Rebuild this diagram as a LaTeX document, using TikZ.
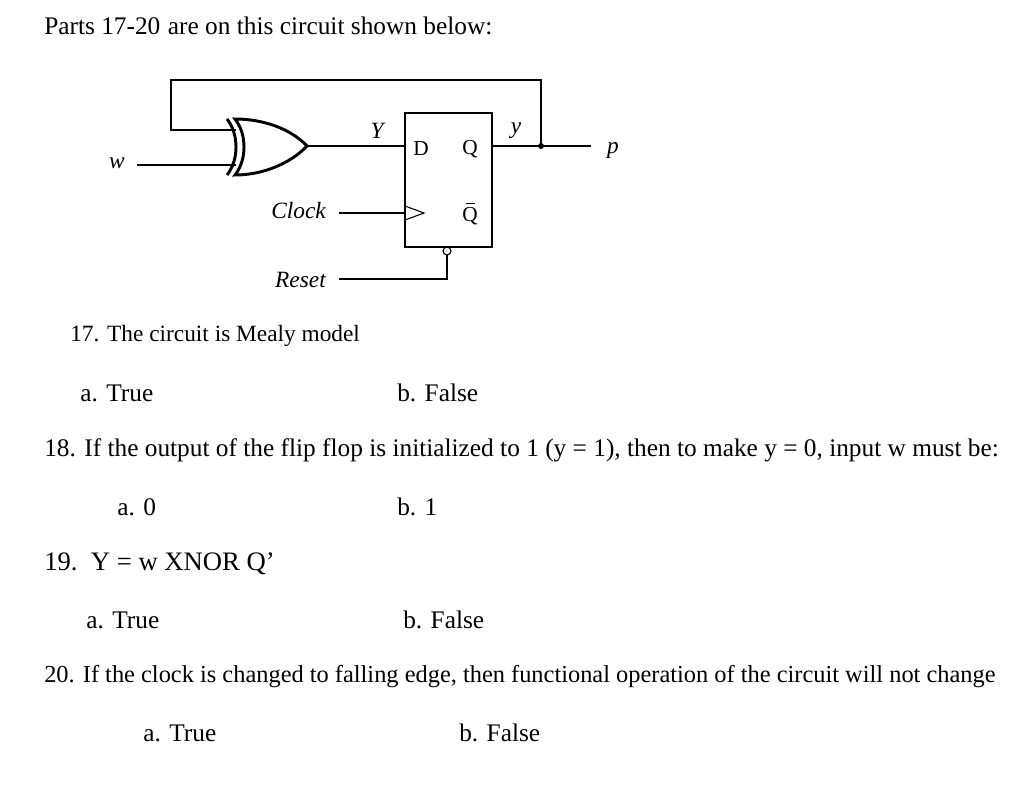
\documentclass[tikz,border=0pt]{standalone}
\usepackage{fontspec}
\setmainfont{Liberation Serif}
\begin{document}
\begin{tikzpicture}[x=0.75pt,y=-0.75pt,
  txt/.style={anchor=west,inner sep=0pt,font=\fontsize{19pt}{22pt}\selectfont},
  lab/.style={inner sep=0pt,font=\fontsize{17.5pt}{20pt}\selectfont\itshape},
  ff/.style={inner sep=0pt,font=\fontsize{16pt}{18pt}\selectfont},
  wire/.style={line width=0.8pt},
  thick box/.style={line width=2.2pt}]
\useasboundingbox (0,0) rectangle (1024,785);
% texts
\node[txt] (t0) at (44,26) {Parts 17-20\hspace{0.3em}are on this circuit shown below:};
\node[txt,font=\fontsize{17.5pt}{20pt}\selectfont] (t17) at (70,336) {17. The circuit is Mealy model};
\node[txt] (a17) at (80,393) {a. True};
\node[txt] (b17) at (397,393) {b. False};
\node[txt] (t18) at (44,450) {18. If the output of the flip flop is initialized to 1 (y = 1), then to make y = 0, input w must be:};
\node[txt] (a18) at (117,507) {a. 0};
\node[txt] (b18) at (397,507) {b. 1};
\node[txt,font=\fontsize{20pt}{22pt}\selectfont] (t19) at (44,564) {19.\ \ Y = w XNOR Q’};
\node[txt] (a19) at (86,620) {a. True};
\node[txt] (b19) at (403,620) {b. False};
\node[txt,font=\fontsize{18.3pt}{22pt}\selectfont] (t20) at (44,677) {20. If the clock is changed to falling edge, then functional operation of the circuit will not change};
\node[txt] (a20) at (143,733) {a. True};
\node[txt] (b20) at (459,733) {b. False};
% gate
\draw[thick box] (235,119) .. controls (262,119) and (290,128) .. (307,146)
  .. controls (290,164) and (262,175) .. (235,175)
  .. controls (247,160) and (247,134) .. (235,119) -- cycle;
\draw[thick box] (227,119) .. controls (239,134) and (239,160) .. (227,175);
\coordinate (gout) at (307,146);
\coordinate (gin1) at (236,130);
\coordinate (gin2) at (236,165);
% flip-flop
\draw[thick box] (405,113) rectangle (492,247);
\node[ff] (D) at (421,149) {D};
\node[ff] (Q) at (470,149) {Q};
\node[ff] (Qb) at (470,216) {Q};
\draw[line width=0.7pt] (465.5,203) -- (474.5,203);
\draw[wire] (405,206) -- (424,213) -- (405,220);
\draw[wire] (447,251) circle (4);
\coordinate (dIn) at (405,146);
\coordinate (qOut) at (492,146);
\coordinate (clk) at (405,213);
\coordinate (rst) at (447,255);
% wires
\coordinate (j) at (541,146);
\coordinate (pend) at (591,146);
\coordinate (fbL) at (171,80);
\coordinate (fbR) at (541,80);
\coordinate (wst) at (137,165);
\coordinate (ckst) at (339,213);
\coordinate (rsst) at (339,279);
\draw[wire] (gout) -- (dIn);
\draw[wire] (qOut) -- (pend);
\fill (j) circle (3);
\draw[wire] (j) -- (fbR) -- (fbL) |- (gin1);
\draw[wire] (wst) -- (gin2);
\draw[wire] (ckst) -- (clk);
\draw[wire] (rsst) -| (rst);
\node[lab] (Yl) at (377,131) {Y};
\node[lab] (yl) at (516,131) {y};
\node[lab] (pl) at (613,150) {p};
\node[lab] (wl) at (117,163) {w};
\node[lab,anchor=east] (cl) at (326,211) {Clock};
\node[lab,anchor=east] (rl) at (326,280) {Reset};
\end{tikzpicture}
\end{document}
